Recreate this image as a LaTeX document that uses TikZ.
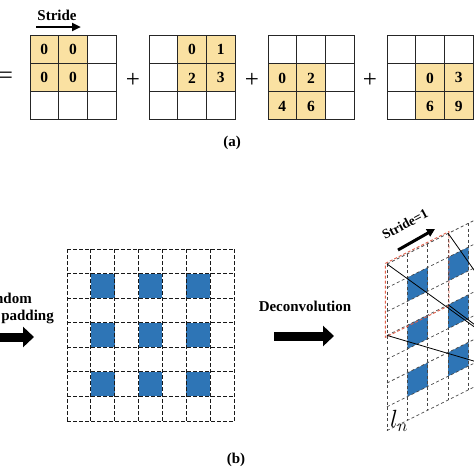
\documentclass[tikz,border=0pt]{standalone}
\usepackage{fontspec}
\setmainfont{Liberation Serif}
\usetikzlibrary{arrows.meta,calc}
\definecolor{cellyellow}{RGB}{250,225,162}
\definecolor{cellblue}{RGB}{46,117,182}
\definecolor{kernred}{RGB}{226,96,74}
\definecolor{dashgray}{RGB}{70,70,70}
\tikzset{
  gridline/.style={black!85,line width=1pt},
  digit/.style={font=\fontsize{15.5}{17}\selectfont\bfseries,inner sep=0pt},
  lbl/.style={font=\fontsize{15}{17}\selectfont\bfseries,inner sep=0pt},
  opsym/.style={font=\fontsize{25}{26}\selectfont,inner sep=0pt},
  padgrid/.style={black!90,line width=0.9pt,dash pattern=on 3.5pt off 2.5pt},
  skewgrid/.style={dashgray,line width=0.7pt,dash pattern=on 3pt off 2.5pt},
  kernel/.style={kernred,line width=0.9pt,dash pattern=on 3pt off 2pt},
  projline/.style={black,line width=0.8pt},
  blockarrow/.style={line width=9pt,-{Triangle[width=20pt,length=11pt]}},
}
\begin{document}
\begin{tikzpicture}[x=1pt,y=-1pt]
\useasboundingbox (0,0) rectangle (474,474);
\clip (0,0) rectangle (474,474);
\fill[white] (0,0) rectangle (474,474);

% ---------- (a) ----------
\node[lbl] (stridea) at (57,15) {Stride};
\coordinate (sa1) at (36,27);
\coordinate (sa2) at (81,27);
\draw[line width=2.5pt,-{Triangle[width=8pt,length=9pt]}] (sa1) -- (sa2);

\node[opsym] (eq) at (6,78) {=};
\node[opsym] (p1) at (133,80) {+};
\node[opsym] (p2) at (252,80) {+};
\node[opsym] (p3) at (370,80) {+};

\foreach \gx/\cx/\cy/\da/\db/\dc/\dd [count=\g] in
  {30/0/0/0/0/0/0, 149/1/0/0/1/2/3, 268/0/1/0/2/4/6, 387/1/1/0/3/6/9}{
  \pgfmathsetmacro\X{\gx+\cx*28.67}
  \pgfmathsetmacro\Y{35+\cy*28.33}
  \fill[cellyellow] (\X,\Y) rectangle ++(57.33,56.67);
  \foreach \k in {0,1,2,3}{
    \draw[gridline] (\gx+\k*28.67,35) -- (\gx+\k*28.67,120);
    \draw[gridline] (\gx,35+\k*28.33) -- (\gx+86,35+\k*28.33);
  }
  \node[digit] (g\g a) at (\X+14.33,\Y+14.6) {\da};
  \node[digit] (g\g b) at (\X+43,\Y+14.6) {\db};
  \node[digit] (g\g c) at (\X+14.33,\Y+42.9) {\dc};
  \node[digit] (g\g d) at (\X+43,\Y+42.9) {\dd};
}
\node[lbl] (capa) at (232,143) {(a)};

% ---------- (b) ----------
\node[lbl,anchor=east] (rnd) at (32,298) {Random};
\node[lbl,anchor=east] (zpad) at (54,317) {zero padding};
\coordinate (ar1) at (-10,337);
\coordinate (ar2) at (34,337);
\draw[blockarrow] (ar1) -- (ar2);

% padded grid
\begin{scope}[shift={(67,249)},x=23.86pt,y=-24.57pt]
  \foreach \i in {1,3,5}{
    \foreach \j in {1,3,5}{
      \fill[cellblue] (\i,\j) rectangle (\i+1,\j+1);
    }
  }
  \foreach \k in {0,...,7}{
    \draw[padgrid] (\k,0) -- (\k,7);
    \draw[padgrid] (0,\k) -- (7,\k);
  }
\end{scope}

\node[font=\fontsize{15}{17}\selectfont\bfseries,inner sep=0pt] (deconv) at (305,306) {Deconvolution};
\coordinate (dc1) at (274,336);
\coordinate (dc2) at (334,336);
\draw[blockarrow] (dc1) -- (dc2);

% skewed grid
\begin{scope}[shift={(387,264)},x={(20.4pt,10.2pt)},y={(0pt,-23.8pt)}]
  \foreach \i in {1,3,5}{
    \foreach \j in {1,3,5}{
      \fill[cellblue] (\i,\j) -- (\i+1,\j) -- (\i+1,\j+1) -- (\i,\j+1) -- cycle;
    }
  }
  \foreach \k in {0,...,7}{
    \draw[skewgrid] (\k,0) -- (\k,7);
    \draw[skewgrid] (0,\k) -- (7,\k);
  }
  \coordinate (kTL) at (0,0);
  \coordinate (kTR) at (3,0);
  \coordinate (kBR) at (3,3);
  \coordinate (kBL) at (0,3);
  \draw[kernel] (-0.08,-0.06) -- (3.04,-0.06) -- (3.04,3.05) -- (-0.08,3.05) -- cycle;
\end{scope}
\coordinate (apex) at (555,385);
\draw[projline] (kTL) -- (apex);
\draw[projline] (kTR) -- (apex);
\draw[projline] (kBR) -- (apex);
\draw[projline] (kBL) -- (apex);

\node[font=\fontsize{13.5}{15}\selectfont\bfseries,inner sep=0pt,rotate=28] (stride1) at (405,224) {Stride=1};
\coordinate (s1a) at (398,250);
\coordinate (s1b) at (435,229);
\draw[line width=3pt,-{Triangle[width=8pt,length=8pt]}] (s1a) -- (s1b);

\node[font=\fontsize{26}{28}\selectfont,inner sep=0pt] (ln) at (399,421) {$l_n$};

\node[lbl] (capb) at (236,460) {(b)};
\end{tikzpicture}
\end{document}
